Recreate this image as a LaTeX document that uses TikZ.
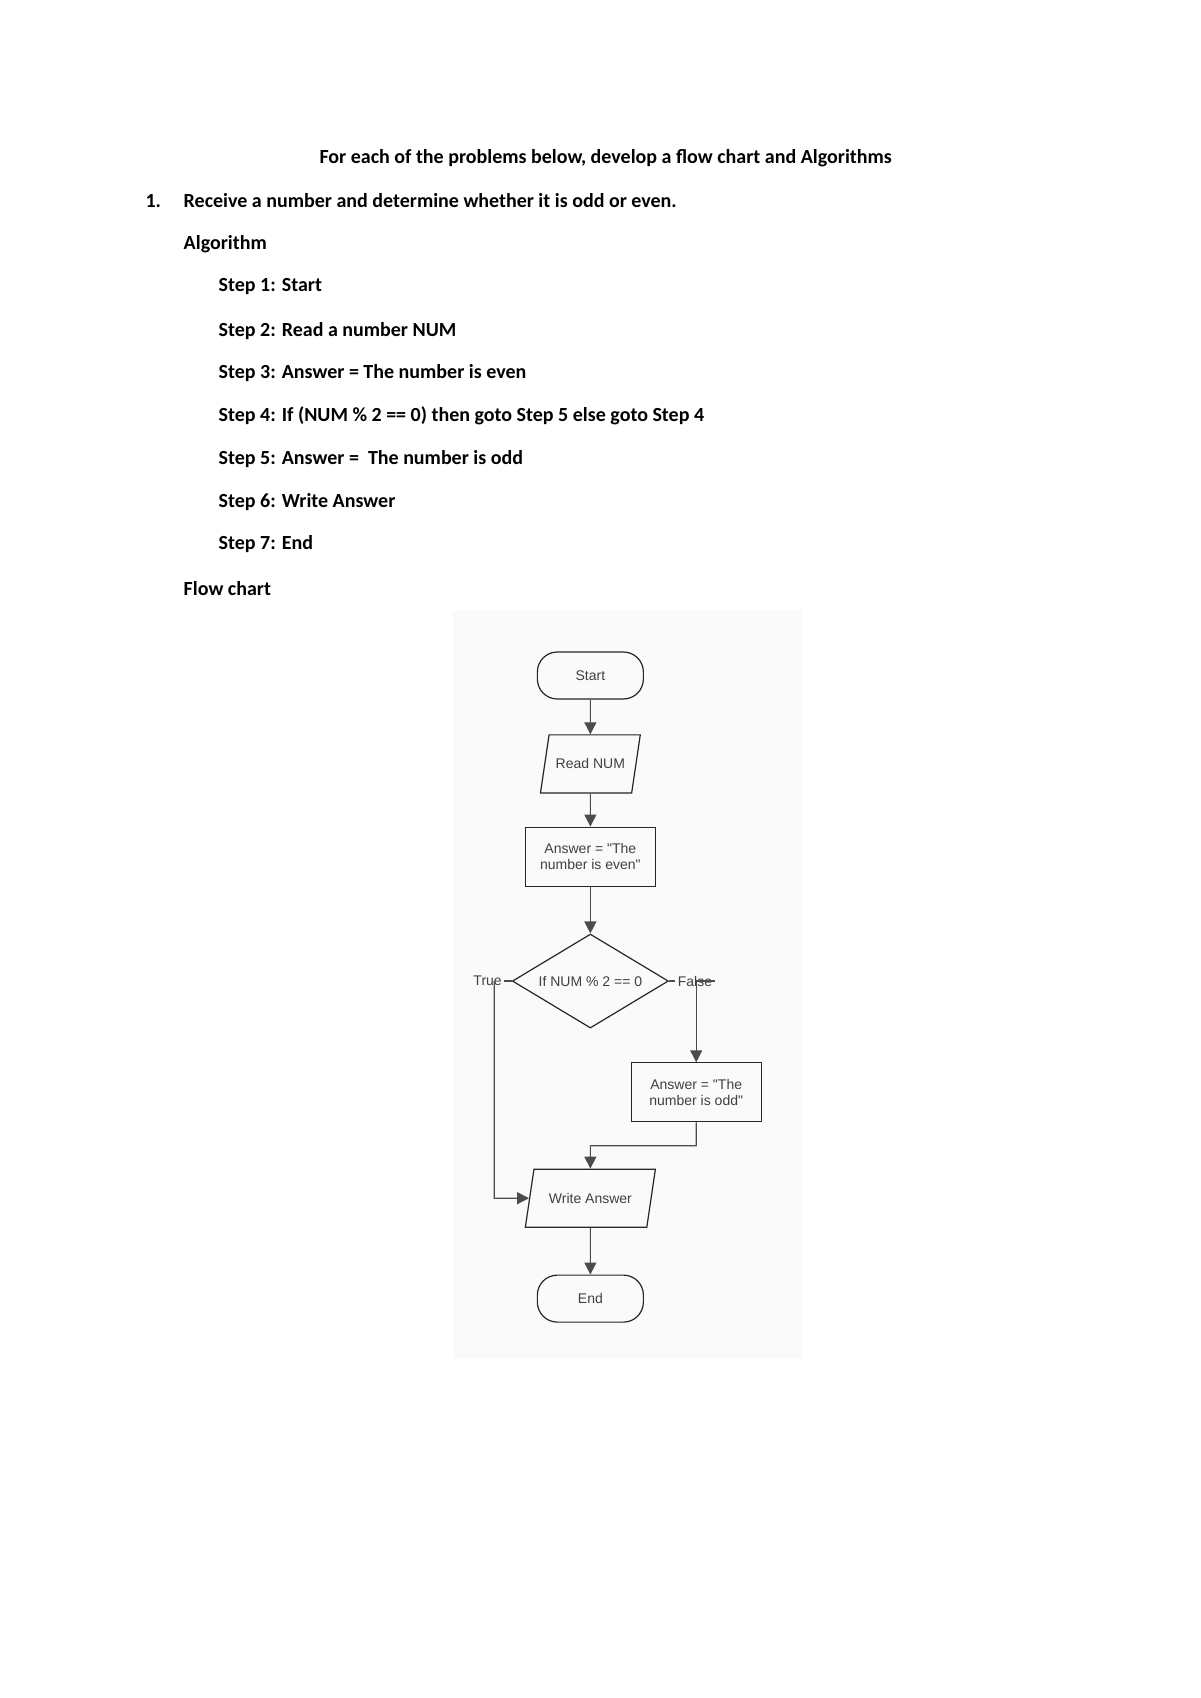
\documentclass[tikz,border=0pt]{standalone}
\usepackage{fontspec}
\setmainfont{Carlito}
\newfontfamily\fcfont{Liberation Sans}
\usetikzlibrary{shapes.geometric,arrows.meta}
\begin{document}
\begin{tikzpicture}[x=0.54545pt,y=-0.54545pt,
 txt/.style={anchor=west,inner sep=0,font=\fontsize{10}{12}\selectfont\bfseries},
 fc/.style={draw=black!85,line width=0.6pt,font=\fcfont\fontsize{7}{8}\selectfont,text=black!75,align=center},
 term/.style={fc,rounded corners=10pt,minimum width=53pt,minimum height=23.5pt},
 io/.style={fc,trapezium,trapezium left angle=70,trapezium right angle=110,minimum width=41pt,minimum height=29pt,trapezium stretches body},
 proc/.style={fc,rectangle,minimum width=65pt,minimum height=29.5pt,inner sep=1pt},
 dec/.style={fc,diamond,aspect=1.66,minimum width=78pt,minimum height=47pt,inner sep=0},
 lbl/.style={font=\fcfont\fontsize{7}{8}\selectfont,text=black!75,inner sep=1pt},
 arr/.style={draw=black!70,line width=0.6pt,-{Triangle[length=6pt,width=6pt]}},
 ln/.style={draw=black!70,line width=0.6pt}]
\useasboundingbox (0,0) rectangle (1100,1556);
\fill[white] (0,0) rectangle (1100,1556);
\fill[black!2] (415,560) rectangle (735,1245);
\node[inner sep=0,font=\fontsize{10}{12}\selectfont\bfseries] (title) at (555,145) {For each of the problems below, develop a flow chart and Algorithms};
\node[txt] (n1) at (133,184) {1.};
\node[txt] (q1) at (168,184) {Receive a number and determine whether it is odd or even.};
\node[txt] (alg) at (168,224) {Algorithm};
\node[txt] (s1) at (200,263) {Step 1: Start};
\node[txt] (s2) at (200,303) {Step 2: Read a number NUM};
\node[txt] (s3) at (200,342) {Step 3: Answer = The number is even};
\node[txt] (s4) at (200,381) {Step 4: If (NUM \% 2 == 0) then goto Step 5 else goto Step 4};
\node[txt] (s5) at (200,421) {Step 5: Answer =\ \ The number is odd};
\node[txt] (s6) at (200,460) {Step 6: Write Answer};
\node[txt] (s7) at (200,499) {Step 7: End};
\node[txt] (fch) at (168,539) {Flow chart};

\node[term] (start) at (541,619) {Start};
\node[io] (read) at (541,700) {Read NUM};
\node[proc] (even) at (541,785) {Answer = "The\\number is even"};
\node[dec] (if) at (541,899) {If NUM \% 2 == 0};
\node[proc] (odd) at (638,1001) {Answer = "The\\number is odd"};
\node[io,minimum width=65pt] (write) at (541,1098) {Write Answer};
\node[term] (end) at (541,1190) {End};
\node[lbl,anchor=east] (tl) at (462,899) {True};
\node[lbl,anchor=west] (fl) at (619,899) {False};
\coordinate (tc) at (453,899);
\coordinate (tb) at (453,1098);
\coordinate (o1) at (638,1050);
\coordinate (o2) at (541,1050);

\draw[arr] (start) -- (read);
\draw[arr] (read) -- (even);
\draw[arr] (even) -- (if);
\draw[ln] (if.west) -- (tl.east);
\draw[ln] (if.east) -- (fl.west);
\draw[arr] (tc) -- (tb) -- (write.west);
\draw[arr] (fl.east) -| (odd.north);
\draw[arr] (odd.south) -- (o1) -- (o2) -- (write.north);
\draw[arr] (write) -- (end);
\end{tikzpicture}
\end{document}
